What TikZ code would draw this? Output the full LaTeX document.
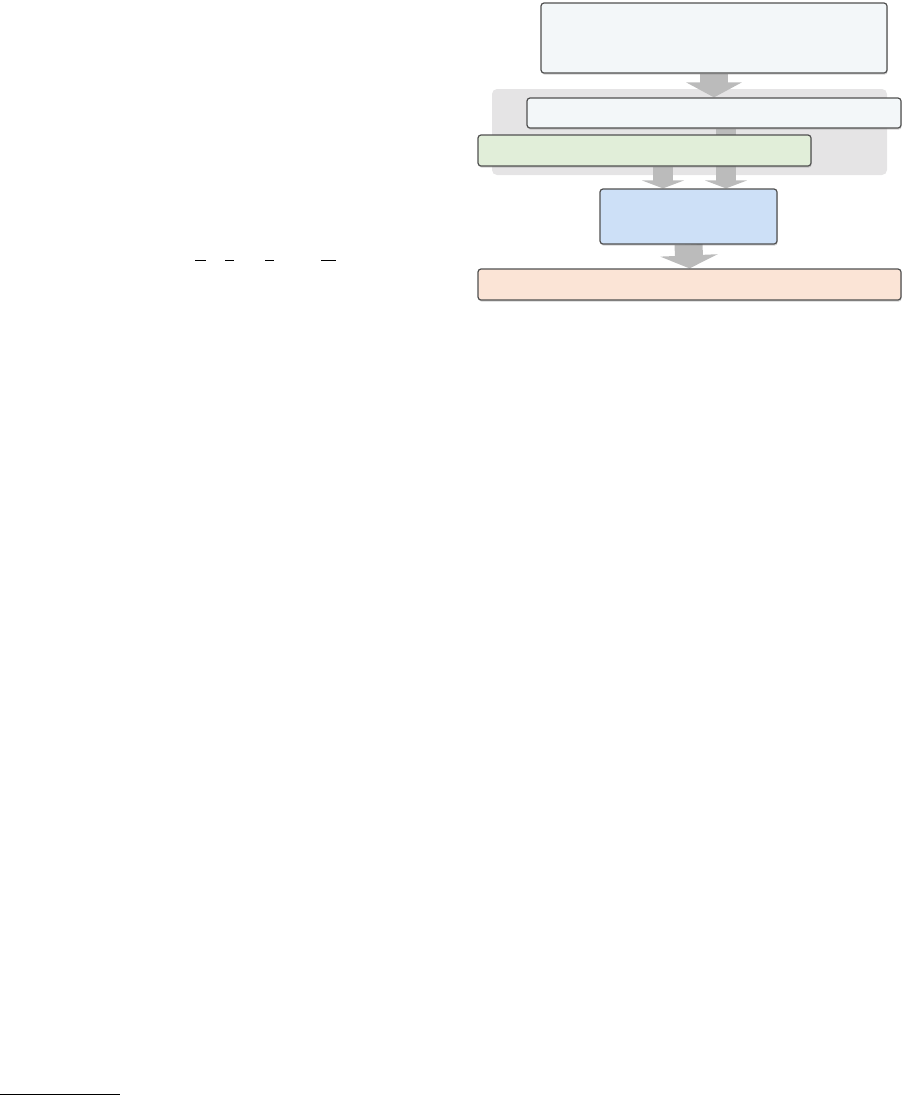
\documentclass[tikz,border=0pt]{standalone}
\usepackage{tikz}
\usetikzlibrary{backgrounds}
\usetikzlibrary{arrows.meta}
\usetikzlibrary{shadows}
\definecolor{edge}{HTML}{505050}
\definecolor{paleblue}{HTML}{F3F7F9}
\definecolor{palegreen}{HTML}{E1EED9}
\definecolor{skyblue}{HTML}{CDE0F7}
\definecolor{peach}{HTML}{FBE4D6}
\definecolor{stagegray}{HTML}{E5E4E5}
\definecolor{flowgray}{HTML}{BBBBBB}
\pgfdeclarelayer{panel}
\pgfsetlayers{panel,background,main}

\begin{document}
\begin{tikzpicture}[
            x = 1pt, y = -1pt, % pixel units, y down
            > = {Triangle[length=15pt, width=55pt]}, % block arrow head
            box/.style = {
                draw = edge,
                line width = 1.2pt,
                rounded corners = 3pt,
                inner sep = 0pt,
                drop shadow = {shadow xshift=0.6pt, shadow yshift=-1.6pt, opacity=.35}
            },
            flow/.style = {draw = flowgray, line width = 28pt, ->},
            thinflow/.style = {draw = flowgray, line width = 20pt, -{Triangle[length=8pt, width=42pt]}}
        ]
        \useasboundingbox (0,0) rectangle (903,1096);

        % boxes
        \node[box, fill=paleblue, minimum width=346pt, minimum height=70pt] (top) at (714,38) {};
        \node[box, fill=paleblue, minimum width=374pt, minimum height=30pt] (upper) at (714,113) {};
        \node[box, fill=palegreen, minimum width=333pt, minimum height=31pt] (side) at (644.5,150.5) {};
        \node[box, fill=skyblue, minimum width=177pt, minimum height=55pt] (core) at (688.5,216.5) {};
        \node[box, fill=peach, minimum width=423pt, minimum height=31pt] (bottom) at (689.5,284.5) {};

        % grey stage behind the middle boxes
        \begin{pgfonlayer}{panel}
            \node[fill=stagegray, rounded corners=5pt, minimum width=395pt, minimum height=86pt] (stage) at (689.5,132) {};
        \end{pgfonlayer}

        % block arrows
        \begin{scope}[on background layer]
            \draw[flow] (top.south) -- (upper.north);
            \draw[thinflow] (663,0 |- side.south) -- (663,0 |- core.north);
            \draw[thinflow] (726,0 |- upper.south) -- (726,0 |- core.north);
            \draw[flow, -{Triangle[length=13pt, width=57pt]}] (core.south) -- (bottom.north);
        \end{scope}

        % stray bars on the left
        \foreach \a/\b in {195/206, 225/234, 265/274, 321/336}
            \draw[line width=0.9pt] (\a,260) -- (\b,260);

        % footnote rule
        \draw[line width=0.8pt] (0,1094.5) -- (120,1094.5);

\end{tikzpicture}
\end{document}
